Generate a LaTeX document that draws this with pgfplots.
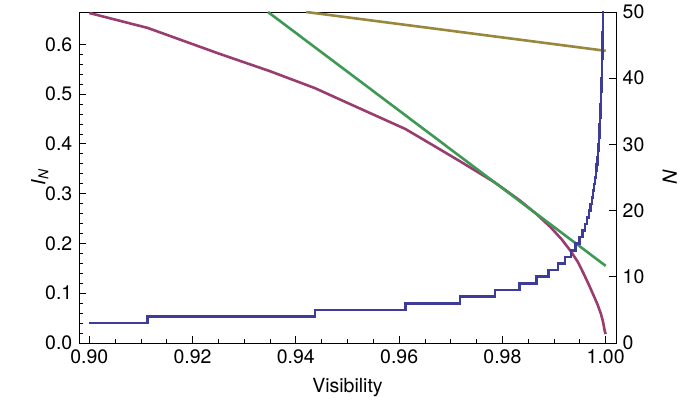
\documentclass[border=0pt]{standalone}
\usepackage{pgfplots}
\pgfplotsset{compat=1.18}
\usepackage{fontspec}
\setmainfont{TeX Gyre Heros}
\definecolor{cblue}{rgb}{0.24,0.24,0.6}
\definecolor{cpurple}{rgb}{0.6,0.24,0.44}
\definecolor{cgreen}{rgb}{0.24,0.6,0.33}
\definecolor{colive}{rgb}{0.6,0.53,0.24}
\begin{document}
\fontsize{19.5}{23}\selectfont
\begin{tikzpicture}
\pgfplotsset{every axis/.append style={
  scale only axis, width=537pt, height=331pt,
  xmin=0.898, xmax=1.002,
  /pgf/number format/assume math mode=true,
  tick style={black, line width=0.8pt},
  major tick length=7pt, minor tick length=4pt,
  axis line style={line width=0.9pt},
  tick align=inside,
  font=\fontsize{19.5}{23}\selectfont,
}}
\begin{axis}[
  name=left,
  ymin=0, ymax=0.665,
  xtick pos=bottom, ytick pos=left,
  xtick={0.90,0.92,0.94,0.96,0.98,1.00},
  minor x tick num=3,
  ytick={0,0.1,0.2,0.3,0.4,0.5,0.6},
  minor y tick num=4,
  xticklabel style={/pgf/number format/fixed, /pgf/number format/fixed zerofill, /pgf/number format/precision=2},
  yticklabel style={/pgf/number format/fixed, /pgf/number format/fixed zerofill, /pgf/number format/precision=1},
  xlabel={Visibility},
  xlabel style={at={(axis description cs:0.5,-0.136)}, anchor=center},
  ylabel={\textit{I}\textsubscript{\textit{N}}},
  ylabel style={at={(axis description cs:-0.073,0.5)}, anchor=center},
]
\addplot[cpurple, line width=2.6pt] coordinates {
(0.9,0.663) (0.9113,0.633) (0.9252,0.581) (0.935,0.546) (0.9437,0.512)
(0.9505,0.480) (0.9612,0.430) (0.9666,0.397) (0.9718,0.365) (0.9786,0.322)
(0.9833,0.287) (0.9866,0.259) (0.9893,0.233) (0.9915,0.208) (0.9932,0.185)
(0.9946,0.163) (0.9957,0.140) (0.9967,0.118) (0.9976,0.097) (0.9984,0.078)
(0.9991,0.058) (0.9995,0.042) (0.9998,0.025) (1.0,0.018)
};
\addplot[cgreen, line width=2.6pt] coordinates {(0.9346,0.665) (1.0,0.155)};
\addplot[colive, line width=2.6pt] coordinates {(0.9420,0.665) (1.0,0.587)};
\end{axis}
\begin{axis}[
  ymin=0, ymax=50,
  axis x line=none,
  axis y line*=right,
  ytick pos=right,
  ytick={0,10,20,30,40,50},
  every axis y label/.style={at={(axis description cs:1.10,0.5)}, anchor=center, rotate=90},
  ylabel={\textit{N}},
]
\addplot[cblue, line width=2.6pt, const plot] coordinates {
(0.9,3) (0.9113,4) (0.9437,5) (0.9612,6) (0.9718,7) (0.9786,8) (0.9833,9)
(0.9866,10) (0.9889,11) (0.99075,12) (0.99216,13) (0.99327,14) (0.99416,15)
(0.99489,16) (0.99549,17) (0.99599,18) (0.99641,19) (0.99676,20) (0.99707,21)
(0.99734,22) (0.99757,23) (0.99777,24) (0.99795,25) (0.99811,26) (0.99825,27)
(0.99837,28) (0.99848,29) (0.99858,30) (0.99868,31) (0.99876,32) (0.99883,33)
(0.99890,34) (0.99896,35) (0.99902,36) (0.99907,37) (0.99912,38) (0.99917,39)
(0.99921,40) (0.99925,41) (0.99928,42) (0.99932,43) (0.99935,44) (0.99938,45)
(0.99940,46) (0.99943,47) (0.99945,48) (0.99948,49) (0.99950,50) (0.99952,50)
};
\end{axis}
\pgfresetboundingbox
\path[use as bounding box] ([shift={(-79pt,-63pt)}]left.south west) rectangle ([shift={(69pt,12pt)}]left.north east);
\end{tikzpicture}
\end{document}
